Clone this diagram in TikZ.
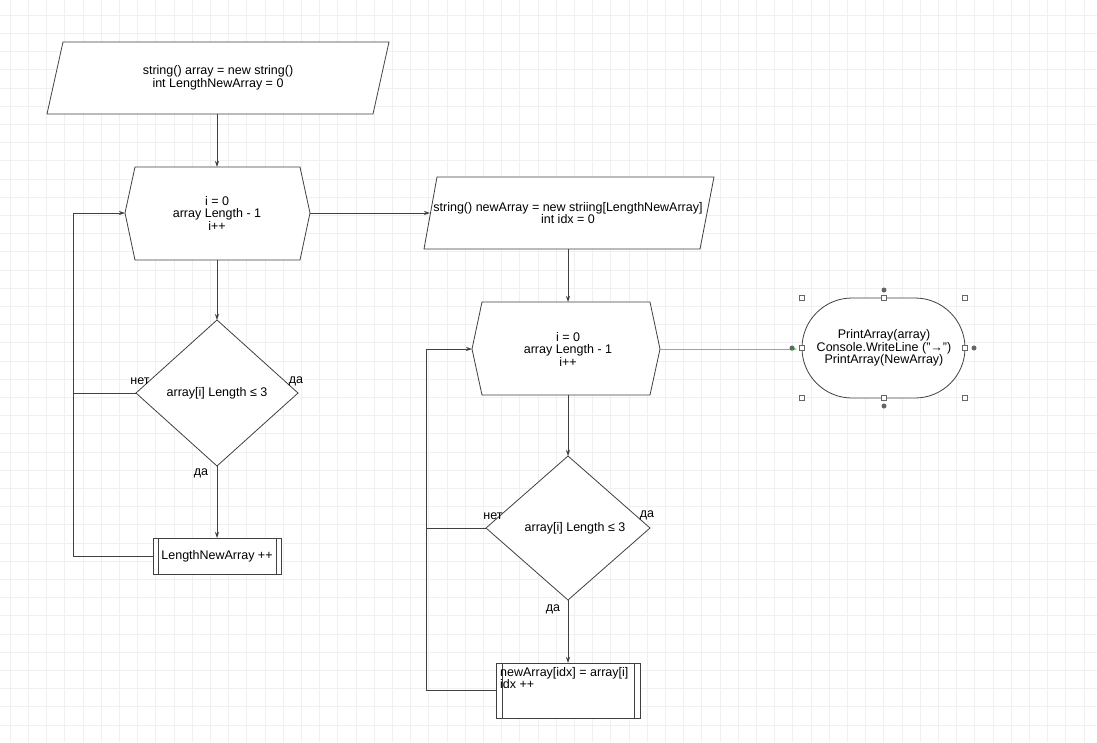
\documentclass[tikz,border=0pt]{standalone}
\usepackage{fontspec}
\setmainfont{Liberation Sans}
\usetikzlibrary{arrows.meta}
\begin{document}
\begin{tikzpicture}[x=1pt,y=-1pt,
  shp/.style={draw=black!75,line width=0.8pt,fill=white},
  conn/.style={draw=black!75,line width=0.8pt},
  arr/.style={conn,-{Stealth[length=6pt,width=4pt]}},
  txt/.style={font=\fontsize{12.5}{12.5}\selectfont,align=center,inner sep=0pt},
  lbl/.style={font=\fontsize{12.5}{12.5}\selectfont,inner sep=0pt},
  hdl/.style={draw=black!60,fill=white,line width=0.6pt,minimum size=5pt,inner sep=0pt},
  dot/.style={circle,fill=black!60,minimum size=5pt,inner sep=0pt}]
\useasboundingbox (0,0) rectangle (1097,742);
\fill[white] (0,0) rectangle (1097,742);
\foreach \i in {0,...,60} {\draw[black!6,line width=0.6pt] (10+18.2*\i,0) -- (10+18.2*\i,742);}
\foreach \i in {0,...,41} {\draw[black!6,line width=0.6pt] (0,15+18.2*\i) -- (1097,15+18.2*\i);}
% parallelogram 1
\draw[shp] (63,42) -- (389,42) -- (373,114) -- (47,114) -- cycle;
\node[txt] (p1) at (218,78) {string() array = new string()\\int LengthNewArray = 0};
\coordinate (p1b) at (217,114);
% hexagon 1
\draw[shp] (125,213) -- (135,167) -- (300,167) -- (310,213) -- (300,260) -- (135,260) -- cycle;
\node[txt] (h1) at (217,213) {i = 0\\array Length - 1\\i++};
\coordinate (h1t) at (217,167); \coordinate (h1b) at (217,260);
\coordinate (h1l) at (125,213); \coordinate (h1r) at (310,213);
% diamond 1
\draw[shp] (217,320) -- (298,393) -- (217,466) -- (136,393) -- cycle;
\node[txt] (d1) at (217,393) {array[i] Length ≤ 3};
\coordinate (d1t) at (217,320); \coordinate (d1b) at (217,466); \coordinate (d1l) at (136,393);
% box 1
\draw[shp] (153,538) rectangle (281,574);
\draw[conn] (158,538) -- (158,574) (276,538) -- (276,574);
\node[txt] (b1) at (217,556) {LengthNewArray ++};
\coordinate (b1t) at (217,538); \coordinate (b1l) at (153,556);
% parallelogram 2
\draw[shp] (437,177) -- (714,177) -- (700,249) -- (424,249) -- cycle;
\node[txt] (p2) at (568,213) {string() newArray = new striing[LengthNewArray]\\int idx = 0};
\coordinate (p2l) at (430,213); \coordinate (p2b) at (568,249);
% hexagon 2
\draw[shp] (472,349) -- (482,302) -- (650,302) -- (660,349) -- (650,395) -- (482,395) -- cycle;
\node[txt] (h2) at (568,349) {i = 0\\array Length - 1\\i++};
\coordinate (h2t) at (568,302); \coordinate (h2b) at (568,395);
\coordinate (h2l) at (472,349); \coordinate (h2r) at (660,349);
% diamond 2
\draw[shp] (568,456) -- (650,528) -- (568,600) -- (486,528) -- cycle;
\node[txt] (d2) at (575,528) {array[i] Length ≤ 3};
\coordinate (d2t) at (568,456); \coordinate (d2b) at (568,600); \coordinate (d2l) at (486,528);
% box 2
\draw[shp] (496,663) rectangle (640,718);
\draw[conn] (502,663) -- (502,718) (634,663) -- (634,718);
\node[txt,align=left,anchor=north west] (b2) at (500,667) {newArray[idx] = array[i]\\idx ++};
\coordinate (b2t) at (568,663); \coordinate (b2l) at (496,690);
% terminator
\draw[shp] (852,298) -- (915,298) arc[start angle=-90,end angle=90,radius=50] -- (852,398) arc[start angle=90,end angle=270,radius=50] -- cycle;
\node[txt] (t) at (884,348) {PrintArray(array)\\Console.WriteLine ("→")\\PrintArray(NewArray)};
\coordinate (tl) at (797,349);
% connectors
\draw[arr] (p1b) -- (h1t);
\draw[arr] (h1b) -- (d1t);
\draw[arr] (d1b) -- (b1t);
\draw[arr] (b1l) -- (73,556) -- (73,213) -- (h1l);
\draw[conn] (d1l) -- (73,393);
\draw[arr] (h1r) -- (p2l);
\draw[arr] (p2b) -- (h2t);
\draw[arr] (h2b) -- (d2t);
\draw[arr] (d2b) -- (b2t);
\draw[arr] (b2l) -- (426,690) -- (426,349) -- (h2l);
\draw[conn] (d2l) -- (426,528);
\draw[draw={rgb,255:red,60;green,230;blue,60},line width=1pt,-{Stealth[length=6pt,width=4pt]}] (h2r) -- (tl);
% labels
\node[lbl] at (140,381) {нет};
\node[lbl] at (296,381) {да};
\node[lbl] at (201,473) {да};
\node[lbl] at (493,516) {нет};
\node[lbl] at (647,515) {да};
\node[lbl] at (553,609) {да};
% handles
\foreach \p in {(802,298),(884,298),(965,298),(802,348),(965,348),(802,398),(884,398),(965,398)} {\node[hdl] at \p {};}
\foreach \p in {(884,290),(884,406),(792,348),(974,348)} {\node[dot] at \p {};}
\end{tikzpicture}
\end{document}
